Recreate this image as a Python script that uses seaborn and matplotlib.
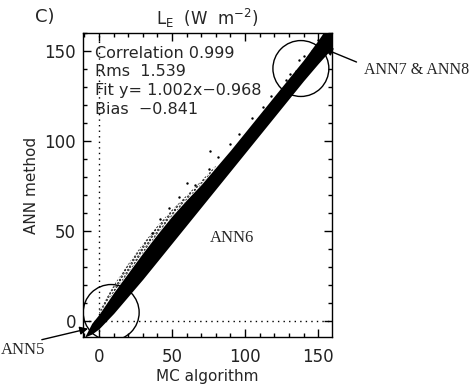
import seaborn as sns
import pandas as pd
import matplotlib.pyplot as plt
from matplotlib.patches import Ellipse

# Band of the dense point cloud (MC algorithm vs ANN method)
band_x = [-9.5, -5, 0, 10, 20, 30, 40, 50, 60, 70, 80, 90, 100, 110, 120, 130, 140, 150, 160]
band_lo = [-8.5, -7, -4, 4.5, 14, 23.5, 33.5, 43.5, 53.5, 63.5, 73.5, 83.5, 93.5, 103.5, 113.5, 123.5, 133.5, 143, 152]
band_hi = [-8, -1, 4, 16, 27, 38, 48.5, 58.5, 67.5, 76, 85.5, 95, 105, 115, 125, 135, 145, 156, 168]

# Sparse fringe above the band
fringe_x = [0, 10, 20, 30, 40, 50, 60, 70, 80]
fringe_lo = [4, 16, 27, 38, 48.5, 58.5, 67.5, 76, 85.5]
fringe_hi = [6, 20, 32, 43, 53, 62, 70, 78, 86.5]

# Isolated points
out_x = [75.9, 81.6, 60, 65.7, 75.5, 55, 48, 42, 36, 105, 112, 118, 128, 131, 135, 137, 140, 143, 146, 148, 152, 150, 90, 96]
out_y = [94.7, 91.5, 76.6, 75.8, 84.5, 69, 63, 57, 49, 113, 119, 125, 134, 137, 139, 145, 147, 144, 150, 146, 150, 156, 98.5, 104]

stats = ['Correlation 0.999', 'Rms  1.539', 'Fit y= 1.002x\u22120.968', 'Bias  \u22120.841']

sns.set_style('ticks')
plt.rcParams['font.family'] = ['DejaVu Sans']
plt.rcParams['hatch.linewidth'] = 1.2

fig = plt.figure(figsize=(4.74, 3.85), dpi=100)
ax = fig.add_axes([0.1751, 0.1247, 0.5253, 0.7896])

ax.fill_between(band_x, band_lo, band_hi, color='black', lw=0)
ax.fill_between(fringe_x, fringe_lo, fringe_hi, facecolor='none', edgecolor='black', hatch='.....', lw=0)
df = pd.DataFrame({'x': out_x, 'y': out_y})
sns.scatterplot(data=df, x='x', y='y', color='black', s=3, linewidth=0, ax=ax)

ax.axvline(0, color='black', lw=1, ls=(0, (1, 3)))
ax.axhline(0, color='black', lw=1, ls=(0, (1, 3)))

for c in [(8.3, 5), (138.2, 140.3)]:
    ax.add_patch(Ellipse(c, 38.3, 31, fill=False, edgecolor='black', lw=1))

ax.set_xlim(-11, 159.5)
ax.set_ylim(-8.6, 160)
ax.set_xticks([0, 50, 100, 150])
ax.set_yticks([0, 50, 100, 150])
ax.set_xticks(range(-10, 160, 10), minor=True)
ax.set_yticks(range(-0, 161, 10), minor=True)
ax.tick_params(which='both', direction='in', top=True, right=True, labelsize=12, width=1, color='black', labelcolor='#222222')
ax.tick_params(which='major', length=6)
ax.tick_params(axis='x', which='major', pad=8)
ax.tick_params(axis='y', which='major', pad=5)
ax.tick_params(which='minor', length=3)
for s in ax.spines.values():
    s.set_linewidth(1)
    s.set_color('black')

ax.set_xlabel('MC algorithm', fontsize=11, labelpad=2)
ax.set_ylabel('ANN method', fontsize=11, labelpad=4)
ax.set_title(r'L$_{\rm E}$  (W  m$^{-2}$)', fontsize=12, pad=6)
fig.text(0.074, 0.955, 'C)', fontsize=13, va='center')

for i, t in enumerate(stats):
    ax.text(-2.7, 148.7 - 10.3 * i, t, fontsize=11.5, ha='left', va='center')

serif = ['Liberation Serif']
ax.text(90.8, 46.5, 'ANN6', family=serif, fontsize=12, ha='center', va='center')
ax.annotate('', xy=(154.1, 151.3), xytext=(176.3, 143.9), annotation_clip=False,
            arrowprops=dict(arrowstyle='-|>', color='black', lw=1, mutation_scale=12, shrinkA=0, shrinkB=0))
fig.text(364 / 474, 1 - 70 / 385, 'ANN7 & ANN8', family=serif, fontsize=11.5, va='center')
ax.annotate('', xy=(-7.5, -4.0), xytext=(-39.2, -10.1), annotation_clip=False,
            arrowprops=dict(arrowstyle='-|>', color='black', lw=1, mutation_scale=12, shrinkA=0, shrinkB=0))
fig.text(0.002, 1 - 350 / 385, 'ANN5', family=serif, fontsize=12, va='center')

fig.savefig('out.png', dpi=100)
